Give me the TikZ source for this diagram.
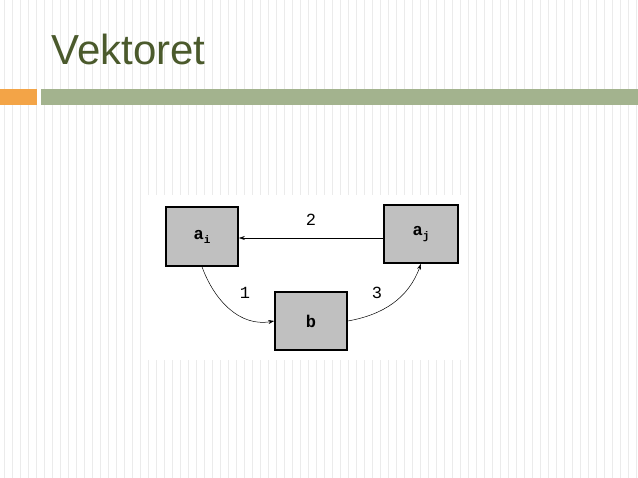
\documentclass[tikz,border=0pt]{standalone}
\usepackage{fontspec}
\usetikzlibrary{arrows.meta}
\setmainfont{Liberation Sans}
\newfontfamily\monof{Liberation Mono}
\definecolor{titlec}{HTML}{4B5A2C}
\definecolor{barg}{HTML}{A3B38E}
\definecolor{baro}{HTML}{F3A447}
\definecolor{stripe}{HTML}{EBEBEB}
\definecolor{boxg}{HTML}{C0C0C0}
\begin{document}
\begin{tikzpicture}[x=1pt,y=-1pt,
  bx/.style={draw=black,line width=1.6pt,fill=boxg,font=\monof\bfseries\fontsize{17}{17}\selectfont},
  lbl/.style={font=\monof\fontsize{17}{17}\selectfont},
  arr/.style={-{Stealth[length=6pt,width=4pt]},line width=0.5pt}]
\useasboundingbox (0,0) rectangle (638,478);
\fill[white] (0,0) rectangle (638,478);
\foreach \i in {0,...,80} \draw[stripe,line width=0.8pt] (\i*8+4,0) -- (\i*8+4,478);
\fill[white] (145,195) rectangle (468,360);
\node[text=titlec,font=\fontsize{42}{42}\selectfont,anchor=base west] (t) at (48,65) {Vektoret};
\fill[baro] (0,89) rectangle (37,105);
\fill[barg] (41,89) rectangle (638,105);
\node[bx,minimum width=72pt,minimum height=59pt] (ai) at (202,236.5) {a\raisebox{-4pt}{\fontsize{11}{11}\selectfont i}};
\node[bx,minimum width=74pt,minimum height=58pt] (aj) at (421,234) {a\raisebox{-4pt}{\fontsize{11}{11}\selectfont j}};
\node[bx,minimum width=72pt,minimum height=58pt] (b) at (311,321) {b};
\draw[arr] (aj.west|-0,238) -- (ai.east|-0,238);
\draw[arr] (ai.south) to[out=-70,in=190] (b.west);
\draw[arr] (b.east) to[out=10,in=-110] (aj.south);
\node[lbl] (l2) at (311,220) {2};
\node[lbl] (l1) at (245,293) {1};
\node[lbl] (l3) at (377,293) {3};
\end{tikzpicture}
\end{document}
